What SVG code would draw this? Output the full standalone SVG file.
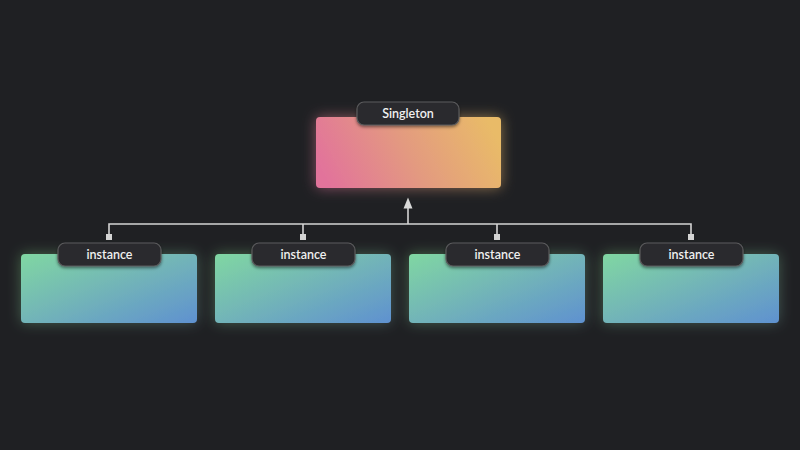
<svg xmlns="http://www.w3.org/2000/svg" width="800" height="450" viewBox="0 0 800 450">
  <defs>
    <linearGradient id="gSingle" x1="0" y1="0.6" x2="1" y2="0.4">
      <stop offset="0" stop-color="#e2739b"/>
      <stop offset="0.5" stop-color="#e39a80"/>
      <stop offset="1" stop-color="#e9bb68"/>
    </linearGradient>
    <linearGradient id="gInst" x1="0" y1="0" x2="1" y2="1">
      <stop offset="0" stop-color="#80d7a2"/>
      <stop offset="0.5" stop-color="#72b4b8"/>
      <stop offset="1" stop-color="#5f91d0"/>
    </linearGradient>
    <filter id="glowWarm" x="-25%" y="-40%" width="150%" height="180%">
      <feGaussianBlur in="SourceGraphic" stdDeviation="7" result="b"/>
      <feComponentTransfer in="b" result="b2"><feFuncA type="linear" slope="0.55"/></feComponentTransfer>
      <feMerge><feMergeNode in="b2"/><feMergeNode in="SourceGraphic"/></feMerge>
    </filter>
    <filter id="glowCool" x="-25%" y="-40%" width="150%" height="180%">
      <feGaussianBlur in="SourceGraphic" stdDeviation="7" result="b"/>
      <feColorMatrix in="b" type="matrix" values="0.6 0 0 0 0.1  0 0.8 0 0 0.15  0 0 0.5 0 0.05  0 0 0 0.4 0" result="b2"/>
      <feMerge><feMergeNode in="b2"/><feMergeNode in="SourceGraphic"/></feMerge>
    </filter>
    <filter id="labShadow" x="-20%" y="-40%" width="140%" height="180%">
      <feDropShadow dx="0" dy="1.5" stdDeviation="1.5" flood-color="#000" flood-opacity="0.5"/>
    </filter>
    <marker id="arrow" viewBox="0 0 10 10" refX="5" refY="5" markerWidth="7" markerHeight="7" orient="auto">
      <path d="M0,1 L10,5 L0,9 z" fill="#d9d9d9"/>
    </marker>
  </defs>
  <style>
    .label { fill: #2b2b2d; stroke: #5a5a5c; stroke-width: 1.2; }
    .txt { font-family: "Lato", "Noto Sans", sans-serif; font-size: 12.5px; font-weight: 600; fill: #f0f0f0; text-anchor: middle; dominant-baseline: central; }
    .conn { stroke: #d4d4d4; stroke-width: 1.6; fill: none; }
    .sq { fill: #d4d4d4; }
  </style>
  <rect width="800" height="450" fill="#1f2023"/>

  <g id="connectors">
    <path class="conn" d="M109,234 V224 H691 V234"/>
    <path class="conn" d="M303,224 V234"/>
    <path class="conn" d="M497,224 V234"/>
    <path class="conn" d="M408,224 V203" marker-end="url(#arrow)"/>
    <rect class="sq" x="106" y="234" width="6" height="6"/>
    <rect class="sq" x="300" y="234" width="6" height="6"/>
    <rect class="sq" x="494" y="234" width="6" height="6"/>
    <rect class="sq" x="688" y="234" width="6" height="6"/>
  </g>

  <g id="singleton">
    <rect x="316" y="117" width="185" height="71" rx="4" fill="url(#gSingle)" filter="url(#glowWarm)"/>
    <rect class="label" x="357" y="102" width="102" height="23" rx="7" filter="url(#labShadow)"/>
    <text class="txt" x="408" y="113.5">Singleton</text>
  </g>

  <g id="instance1">
    <rect x="21" y="254" width="176" height="69" rx="4" fill="url(#gInst)" filter="url(#glowCool)"/>
    <rect class="label" x="58" y="243" width="103" height="23" rx="7" filter="url(#labShadow)"/>
    <text class="txt" x="109.5" y="254.5">instance</text>
  </g>
  <g id="instance2">
    <rect x="215" y="254" width="176" height="69" rx="4" fill="url(#gInst)" filter="url(#glowCool)"/>
    <rect class="label" x="252" y="243" width="103" height="23" rx="7" filter="url(#labShadow)"/>
    <text class="txt" x="303.5" y="254.5">instance</text>
  </g>
  <g id="instance3">
    <rect x="409" y="254" width="176" height="69" rx="4" fill="url(#gInst)" filter="url(#glowCool)"/>
    <rect class="label" x="446" y="243" width="103" height="23" rx="7" filter="url(#labShadow)"/>
    <text class="txt" x="497.5" y="254.5">instance</text>
  </g>
  <g id="instance4">
    <rect x="603" y="254" width="176" height="69" rx="4" fill="url(#gInst)" filter="url(#glowCool)"/>
    <rect class="label" x="640" y="243" width="103" height="23" rx="7" filter="url(#labShadow)"/>
    <text class="txt" x="691.5" y="254.5">instance</text>
  </g>
</svg>
